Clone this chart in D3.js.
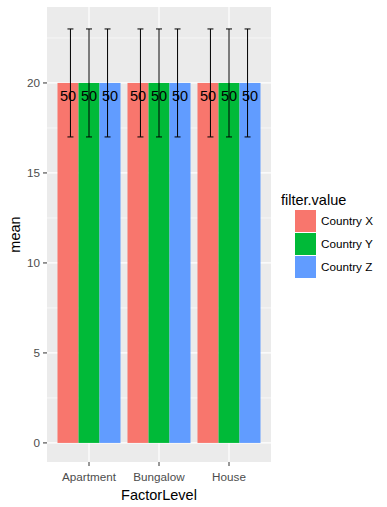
<!DOCTYPE html>
<html>
<head>
<meta charset="utf-8">
<script src="https://cdn.jsdelivr.net/npm/d3@7"></script>
<style>
  body { margin: 0; background: #fff; }
  text { font-family: "Liberation Sans", Arial, sans-serif; }
</style>
</head>
<body>
<svg id="plot"></svg>
<script>
const factorLevels = ["Apartment", "Bungalow", "House"];
const countries = ["Country X", "Country Y", "Country Z"];
// mean per factor level, one value per country
const means = [[20, 20, 20], [20, 20, 20], [20, 20, 20]];
const errLow = [[17, 17, 17], [17, 17, 17], [17, 17, 17]];
const errHigh = [[23, 23, 23], [23, 23, 23], [23, 23, 23]];
const counts = [[50, 50, 50], [50, 50, 50], [50, 50, 50]];
const yTicks = [0, 5, 10, 15, 20];
const yMinor = [2.5, 7.5, 12.5, 17.5, 22.5];

const width = 387, height = 507;
const panel = { left: 47, right: 271, top: 7, bottom: 462 };

const svg = d3.select("#plot")
  .attr("width", width)
  .attr("height", height);

const color = d3.scaleOrdinal()
  .domain(countries)
  .range(["#F8766D", "#00BA38", "#619CFF"]);

// ggplot style discrete expansion: 0.6 units each side
const x = d3.scaleLinear()
  .domain([0.4, factorLevels.length + 0.6])
  .range([panel.left, panel.right]);

const y = d3.scaleLinear()
  .domain([-1.06, 24.22])
  .range([panel.bottom, panel.top]);

const barWidth = 0.9;
const sub = barWidth / countries.length;
const errOffset = 0.265;

// panel background
svg.append("rect")
  .attr("x", panel.left).attr("y", panel.top)
  .attr("width", panel.right - panel.left)
  .attr("height", panel.bottom - panel.top)
  .attr("fill", "#EBEBEB");

// minor grid
svg.append("g").selectAll("line")
  .data(yMinor)
  .enter().append("line")
    .attr("x1", panel.left).attr("x2", panel.right)
    .attr("y1", d => y(d)).attr("y2", d => y(d))
    .attr("stroke", "#fff").attr("stroke-width", 0.6);

// major grid
svg.append("g").selectAll("line")
  .data(yTicks)
  .enter().append("line")
    .attr("x1", panel.left).attr("x2", panel.right)
    .attr("y1", d => y(d)).attr("y2", d => y(d))
    .attr("stroke", "#fff").attr("stroke-width", 1.2);

svg.append("g").selectAll("line")
  .data(factorLevels)
  .enter().append("line")
    .attr("x1", (d, i) => x(i + 1)).attr("x2", (d, i) => x(i + 1))
    .attr("y1", panel.top).attr("y2", panel.bottom)
    .attr("stroke", "#fff").attr("stroke-width", 1.2);

// flatten data
const rows = [];
factorLevels.forEach((f, i) => {
  countries.forEach((c, j) => {
    rows.push({ f: f, c: c, i: i, j: j,
      mean: means[i][j], lo: errLow[i][j], hi: errHigh[i][j], n: counts[i][j] });
  });
});

// bars
svg.append("g").selectAll("rect")
  .data(rows)
  .enter().append("rect")
    .attr("x", d => x(d.i + 1 - barWidth / 2 + d.j * sub))
    .attr("width", x(sub) - x(0))
    .attr("y", d => y(d.mean))
    .attr("height", d => y(0) - y(d.mean))
    .attr("fill", d => color(d.c));

// error bars
const errX = d => x(d.i + 1 + (d.j - 1) * errOffset);
const cap = 3;
const eb = svg.append("g").attr("stroke", "#000").attr("stroke-width", 1);
eb.selectAll(".v").data(rows).enter().append("line")
  .attr("x1", errX).attr("x2", errX)
  .attr("y1", d => y(d.lo)).attr("y2", d => y(d.hi));
eb.selectAll(".t").data(rows).enter().append("line")
  .attr("x1", d => errX(d) - cap).attr("x2", d => errX(d) + cap)
  .attr("y1", d => y(d.hi)).attr("y2", d => y(d.hi));
eb.selectAll(".b").data(rows).enter().append("line")
  .attr("x1", d => errX(d) - cap).attr("x2", d => errX(d) + cap)
  .attr("y1", d => y(d.lo)).attr("y2", d => y(d.lo));

// count labels
svg.append("g").selectAll("text")
  .data(rows)
  .enter().append("text")
    .attr("x", d => x(d.i + 1 - barWidth / 2 + (d.j + 0.5) * sub))
    .attr("y", d => y(d.mean) + 18)
    .attr("text-anchor", "middle")
    .style("font-size", "14.5px")
    .attr("fill", "#000")
    .text(d => d.n);

// y axis
const yAxis = svg.append("g");
yAxis.selectAll("line").data(yTicks).enter().append("line")
  .attr("x1", panel.left - 4).attr("x2", panel.left)
  .attr("y1", d => y(d)).attr("y2", d => y(d))
  .attr("stroke", "#333").attr("stroke-width", 1);
yAxis.selectAll("text").data(yTicks).enter().append("text")
  .attr("x", panel.left - 7)
  .attr("y", d => y(d))
  .attr("dy", "0.35em")
  .attr("text-anchor", "end")
  .attr("fill", "#4D4D4D")
  .style("font-size", "11.7px")
  .text(d => d);

// x axis
const xAxis = svg.append("g");
xAxis.selectAll("line").data(factorLevels).enter().append("line")
  .attr("x1", (d, i) => x(i + 1)).attr("x2", (d, i) => x(i + 1))
  .attr("y1", panel.bottom).attr("y2", panel.bottom + 4)
  .attr("stroke", "#333").attr("stroke-width", 1);
xAxis.selectAll("text").data(factorLevels).enter().append("text")
  .attr("x", (d, i) => x(i + 1))
  .attr("y", panel.bottom + 19)
  .attr("text-anchor", "middle")
  .attr("fill", "#4D4D4D")
  .style("font-size", "11.7px")
  .text(d => d);

// axis titles
svg.append("text")
  .attr("x", (panel.left + panel.right) / 2)
  .attr("y", 500)
  .attr("text-anchor", "middle")
  .style("font-size", "14.5px")
  .text("FactorLevel");

svg.append("text")
  .attr("transform", "translate(20," + ((panel.top + panel.bottom) / 2) + ") rotate(-90)")
  .attr("text-anchor", "middle")
  .style("font-size", "14.5px")
  .text("mean");

// legend
svg.append("text")
  .attr("x", 281)
  .attr("y", 205)
  .style("font-size", "14.5px")
  .text("filter.value");

const legend = svg.selectAll(".legend")
  .data(countries)
  .enter().append("g")
    .attr("class", "legend")
    .attr("transform", (d, i) => "translate(295," + (210 + i * 23) + ")");

legend.append("rect")
  .attr("width", 21)
  .attr("height", 22)
  .style("fill", color);

legend.append("text")
  .attr("x", 26)
  .attr("y", 11)
  .attr("dy", "0.35em")
  .style("font-size", "11.7px")
  .text(d => d);
</script>
</body>
</html>
